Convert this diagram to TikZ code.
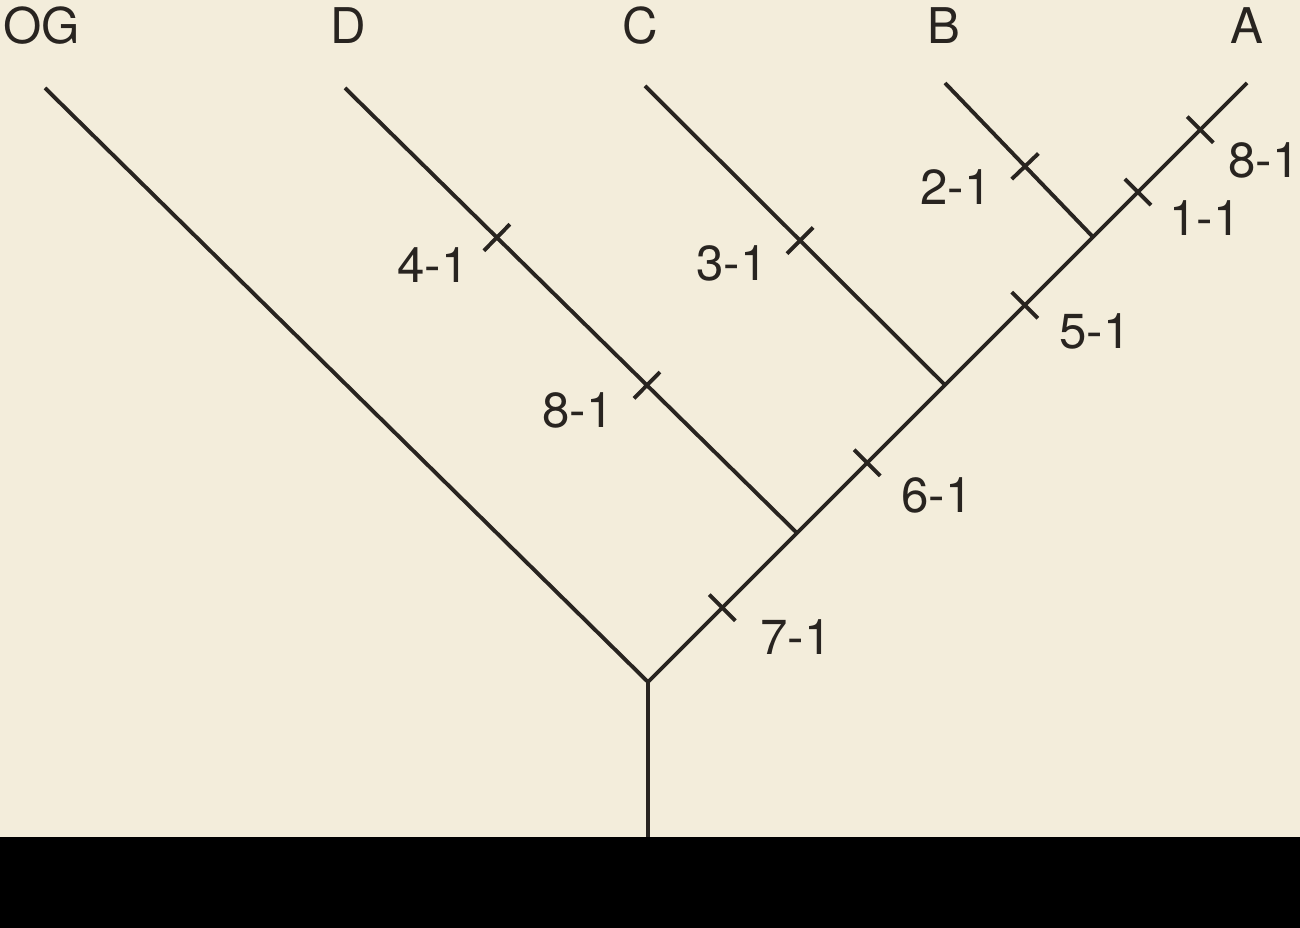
\documentclass[tikz,border=0pt]{standalone}
\usepackage{fontspec}
\setmainfont{TeX Gyre Heros}
\definecolor{paper}{RGB}{243,237,219}
\definecolor{ink}{RGB}{40,36,32}
\tikzset{
  branch/.style={ink,line width=2.2pt},
  charmark/.style={draw=ink,line width=2.2pt,sloped,rectangle,minimum width=0pt,minimum height=0.74cm,inner sep=0pt},
  taxon/.style={anchor=base,text=ink,inner sep=0pt,font=\fontsize{28}{32}\selectfont},
  charlabel/.style={text=ink,inner sep=0pt,font=\fontsize{28}{32}\selectfont}
}
\begin{document}
\begin{tikzpicture}
\fill[paper] (0,0) rectangle (26,18.56);
\fill[black] (0,0) rectangle (26,1.82);
\useasboundingbox (0,0) rectangle (26,18.56);
% tips and forks
\coordinate (base) at (12.96,1.82);
\coordinate (root) at (12.96,4.92);
\coordinate (jD) at (15.94,7.90);
\coordinate (jC) at (18.90,10.86);
\coordinate (jB) at (21.86,13.82);
\coordinate (og) at (0.90,16.80);
\coordinate (dd) at (6.90,16.80);
\coordinate (cc) at (12.90,16.84);
\coordinate (bb) at (18.90,16.90);
\coordinate (aa) at (24.94,16.90);
% taxa
\node[taxon] (lOG) at (0.84,17.68) {OG};
\node[taxon] (lD) at (6.96,17.68) {D};
\node[taxon] (lC) at (12.80,17.68) {C};
\node[taxon] (lB) at (18.88,17.68) {B};
\node[taxon] (lA) at (24.94,17.68) {A};
% branches
\draw[branch] (base) -- (root);
\draw[branch] (root) -- (og);
\draw[branch] (root) -- node[charmark,pos=.124]{} node[charmark,pos=.366]{}
  node[charmark,pos=.629]{} node[charmark,pos=.818]{} node[charmark,pos=.922]{} (aa);
\draw[branch] (jD) -- node[charmark,pos=.332]{} node[charmark,pos=.664]{} (dd);
\draw[branch] (jC) -- node[charmark,pos=.483]{} (cc);
\draw[branch] (jB) -- node[charmark,pos=.459]{} (bb);
% character changes
\node[charlabel] (c7) at (15.92,5.82) {7-1};
\node[charlabel] (c6) at (18.74,8.66) {6-1};
\node[charlabel] (c5) at (21.90,11.94) {5-1};
\node[charlabel] (c1) at (24.10,14.20) {1-1};
\node[charlabel] (c8a) at (25.28,15.36) {8-1};
\node[charlabel] (c2) at (19.12,14.82) {2-1};
\node[charlabel] (c3) at (14.64,13.30) {3-1};
\node[charlabel] (c4) at (8.66,13.26) {4-1};
\node[charlabel] (c8d) at (11.56,10.36) {8-1};
\end{tikzpicture}
\end{document}
